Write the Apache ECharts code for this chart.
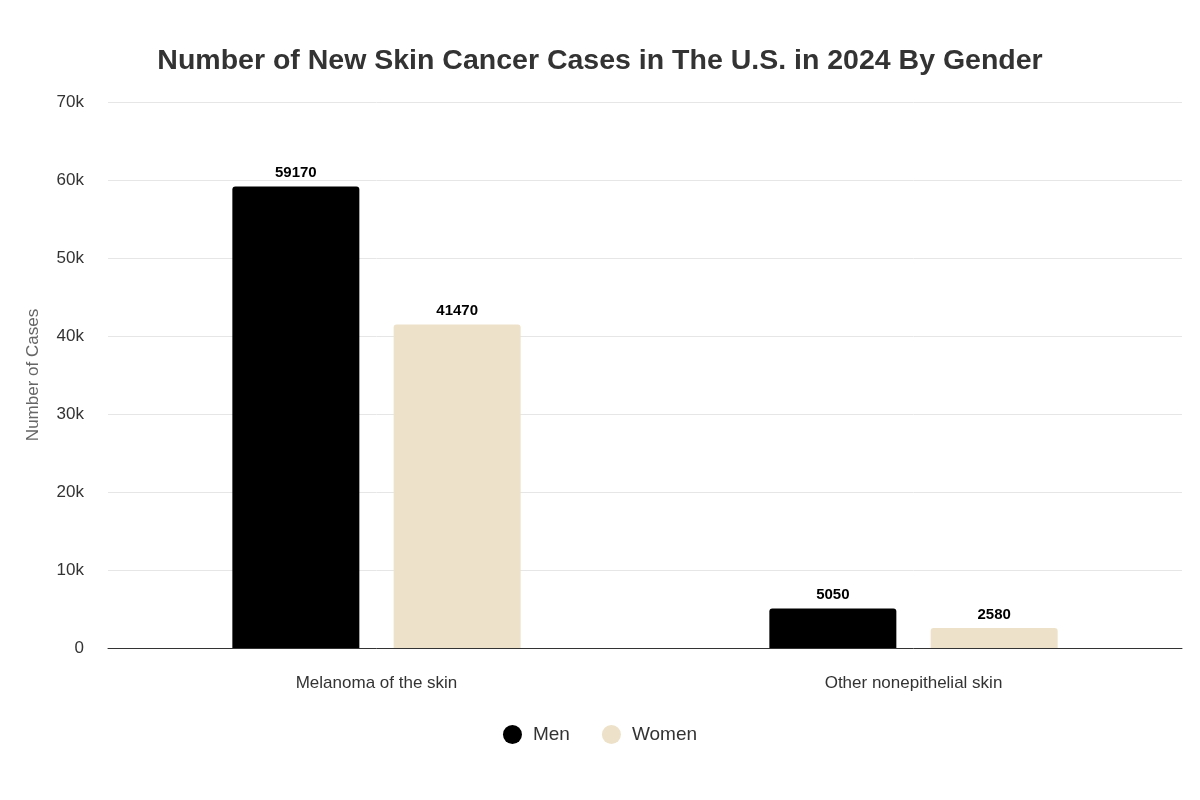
<!DOCTYPE html>
<html>
<head>
<meta charset="utf-8">
<script src="https://cdn.jsdelivr.net/npm/echarts@6/dist/echarts.min.js"></script>
<style>
  html, body { margin: 0; padding: 0; background: #fff; }
  #chart { width: 1200px; height: 800px; }
</style>
</head>
<body>
<div id="chart"></div>
<script>
const categories = ['Melanoma of the skin', 'Other nonepithelial skin'];
const menCases = [59170, 5050];
const womenCases = [41470, 2580];

const chart = echarts.init(document.getElementById('chart'));
const fontFamily = '"Liberation Sans", Arial, Helvetica, sans-serif';

const labelStyle = { show: true, position: 'top', color: '#000', fontWeight: 'bold', fontSize: 15, fontFamily, distance: 6 };

chart.setOption({
    backgroundColor: '#fff',
    title: {
        text: 'Number of New Skin Cancer Cases in The U.S. in 2024 By Gender',
        left: 'center', top: 42,
        textStyle: { color: '#333', fontSize: 28.5, fontWeight: 'bold', fontFamily }
    },
    legend: {
        bottom: 51, left: 'center',
        icon: 'circle', itemWidth: 19, itemHeight: 19, itemGap: 32,
        textStyle: { color: '#333', fontSize: 19, fontFamily, padding: [0, 0, 0, 6] },
        data: ['Men', 'Women']
    },
    grid: { left: 108, right: 18, top: 102, bottom: 152 },
    xAxis: {
        type: 'category',
        data: categories,
        axisTick: { show: false },
        axisLine: { lineStyle: { color: '#333', width: 1 } },
        axisLabel: { color: '#333', fontSize: 17, fontFamily, margin: 27 }
    },
    yAxis: {
        type: 'value',
        min: 0, max: 70000, interval: 10000,
        name: 'Number of Cases',
        nameLocation: 'middle', nameGap: 66,
        nameTextStyle: { color: '#666', fontSize: 17, fontFamily },
        axisLabel: { color: '#333', fontSize: 17, fontFamily, margin: 24, formatter: v => v === 0 ? '0' : (v / 1000) + 'k' },
        splitLine: { lineStyle: { color: '#e6e6e6' } },
        axisLine: { show: false },
        axisTick: { show: false }
    },
    series: [
        {
            name: 'Men', type: 'bar', data: menCases,
            barWidth: 127, barGap: '27%',
            itemStyle: { color: '#000', borderRadius: [3, 3, 0, 0] },
            label: labelStyle
        },
        {
            name: 'Women', type: 'bar', data: womenCases,
            barWidth: 127,
            itemStyle: { color: '#ede2c9', borderRadius: [3, 3, 0, 0] },
            label: labelStyle
        }
    ]
});
</script>
</body>
</html>
